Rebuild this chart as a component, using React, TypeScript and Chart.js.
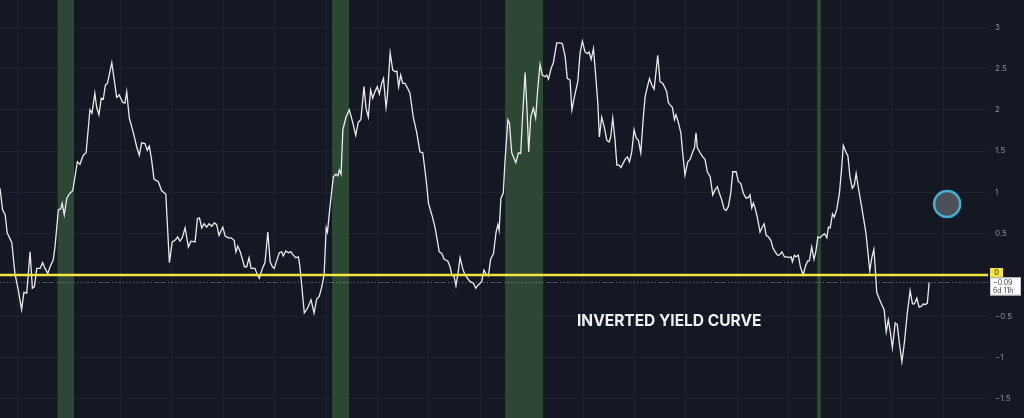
import React, { useEffect, useRef } from "react";
import { Chart, registerables } from "chart.js";

Chart.register(...registerables);

// 10Y-2Y spread (decimal year, percent)
const spreadDates = [
  1988.41, 1988.51, 1988.61, 1988.69, 1988.87, 1988.99, 1989.12, 1989.25, 1989.34, 1989.45,
  1989.58, 1989.67, 1989.75, 1989.84, 1989.97, 1990.07, 1990.16, 1990.27, 1990.36, 1990.48,
  1990.55, 1990.68, 1990.77, 1990.83, 1990.91, 1991.01, 1991.13, 1991.24, 1991.42, 1991.52,
  1991.65, 1991.76, 1991.91, 1991.99, 1992.10, 1992.17, 1992.26, 1992.35, 1992.43, 1992.51,
  1992.59, 1992.76, 1992.95, 1993.05, 1993.18, 1993.27, 1993.34, 1993.44, 1993.60, 1993.73,
  1993.83, 1993.92, 1994.05, 1994.14, 1994.22, 1994.31, 1994.40, 1994.57, 1994.70, 1994.86,
  1995.00, 1995.11, 1995.22, 1995.32, 1995.41, 1995.50, 1995.61, 1995.74, 1995.84, 1996.00,
  1996.09, 1996.17, 1996.26, 1996.35, 1996.45, 1996.54, 1996.65, 1996.75, 1996.84, 1996.93,
  1997.08, 1997.17, 1997.29, 1997.40, 1997.52, 1997.59, 1997.66, 1997.76, 1997.92, 1998.01,
  1998.10, 1998.18, 1998.33, 1998.40, 1998.50, 1998.62, 1998.72, 1998.83, 1998.92, 1999.01,
  1999.08, 1999.18, 1999.28, 1999.37, 1999.43, 1999.53, 1999.63, 1999.73, 1999.82, 1999.92,
  2000.02, 2000.08, 2000.25, 2000.38, 2000.51, 2000.63, 2000.73, 2000.83, 2000.93, 2001.02,
  2001.10, 2001.15, 2001.25, 2001.38, 2001.48, 2001.56, 2001.61, 2001.68, 2001.75, 2001.87,
  2002.00, 2002.13, 2002.25, 2002.35, 2002.45, 2002.57, 2002.65, 2002.74, 2002.83, 2002.91,
  2003.00, 2003.09, 2003.17, 2003.26, 2003.33, 2003.43, 2003.48, 2003.59, 2003.69, 2003.78,
  2003.85, 2003.92, 2004.00, 2004.08, 2004.17, 2004.27, 2004.36, 2004.49, 2004.62, 2004.75,
  2004.86, 2004.99, 2005.08, 2005.21, 2005.34, 2005.50, 2005.60, 2005.69, 2005.83, 2005.92,
  2005.99, 2006.08, 2006.15, 2006.24, 2006.31, 2006.41, 2006.50, 2006.70, 2006.83, 2006.92,
  2007.02, 2007.15, 2007.24, 2007.31, 2007.41, 2007.50, 2007.61, 2007.71, 2007.78, 2007.83,
  2007.90, 2007.99, 2008.06, 2008.17, 2008.23, 2008.32, 2008.48, 2008.58, 2008.67, 2008.73,
  2008.84, 2008.92, 2008.98, 2009.06, 2009.16, 2009.25, 2009.33, 2009.42, 2009.51, 2009.62,
  2009.68, 2009.75, 2009.85, 2009.94, 2010.07, 2010.20, 2010.29, 2010.40, 2010.48, 2010.59,
  2010.66, 2010.76, 2010.89, 2010.98, 2011.07, 2011.17, 2011.26, 2011.33, 2011.41, 2011.50,
  2011.59, 2011.67, 2011.73, 2011.82, 2011.92, 2012.02, 2012.11, 2012.17, 2012.25, 2012.34,
  2012.41, 2012.50, 2012.57, 2012.73, 2012.82, 2012.90, 2012.99, 2013.08, 2013.16, 2013.25,
  2013.34, 2013.44, 2013.51, 2013.60, 2013.68, 2013.77, 2013.86, 2013.94, 2014.00, 2014.09,
  2014.20, 2014.29, 2014.35, 2014.41, 2014.48, 2014.57, 2014.65, 2014.71, 2014.80, 2014.90,
  2014.97, 2015.06, 2015.17, 2015.26, 2015.36, 2015.43, 2015.49, 2015.54, 2015.65, 2015.75,
  2015.84, 2015.93, 2016.04, 2016.14, 2016.23, 2016.32, 2016.40, 2016.49, 2016.58, 2016.66,
  2016.75, 2016.84, 2016.92, 2017.05, 2017.14, 2017.23, 2017.33, 2017.44, 2017.53, 2017.59,
  2017.66, 2017.72, 2017.79, 2017.88, 2017.98, 2018.05, 2018.14, 2018.22, 2018.31, 2018.40,
  2018.48, 2018.57, 2018.66, 2018.73, 2018.83, 2018.93, 2019.02, 2019.11, 2019.19, 2019.24,
  2019.32, 2019.38, 2019.47, 2019.55, 2019.66, 2019.76, 2019.84, 2019.90, 2019.99, 2020.08,
  2020.15, 2020.23, 2020.32, 2020.41, 2020.49, 2020.58, 2020.64, 2020.71, 2020.80, 2020.87,
  2020.97, 2021.07, 2021.16, 2021.22, 2021.32, 2021.40, 2021.48, 2021.57, 2021.65, 2021.72,
  2021.81, 2021.91, 2022.00, 2022.10, 2022.17, 2022.25, 2022.33, 2022.41, 2022.46, 2022.52,
  2022.61, 2022.72, 2022.81, 2022.89, 2022.97, 2023.05, 2023.13, 2023.24, 2023.32, 2023.40,
  2023.50, 2023.60, 2023.71, 2023.82, 2023.91, 2023.99, 2024.08, 2024.17, 2024.25, 2024.34,
  2024.40, 2024.49, 2024.56,
];

const spreadValues = [
  1.05, 0.79, 0.73, 0.51, 0.39, 0.02, -0.18, -0.42, -0.21, -0.22,
  0.28, -0.16, -0.14, 0.08, 0.08, 0.15, 0.08, 0.02, 0.10, 0.18,
  0.34, 0.79, 0.80, 0.87, 0.73, 0.93, 0.99, 1.02, 1.37, 1.34,
  1.45, 1.48, 2.00, 1.96, 2.20, 2.03, 1.94, 2.14, 2.13, 2.30,
  2.32, 2.57, 2.15, 2.18, 2.09, 2.08, 2.22, 1.90, 1.72, 1.55,
  1.45, 1.60, 1.59, 1.51, 1.56, 1.39, 1.16, 1.13, 1.02, 0.98,
  0.15, 0.40, 0.42, 0.46, 0.41, 0.45, 0.57, 0.34, 0.41, 0.40,
  0.68, 0.69, 0.57, 0.62, 0.58, 0.62, 0.59, 0.63, 0.61, 0.48,
  0.58, 0.47, 0.45, 0.45, 0.42, 0.28, 0.35, 0.28, 0.10, 0.10,
  0.21, 0.08, 0.08, 0.02, -0.04, 0.08, 0.15, 0.52, 0.16, 0.10,
  0.08, 0.18, 0.27, 0.28, 0.23, 0.29, 0.27, 0.28, 0.24, 0.21,
  0.22, 0.10, -0.46, -0.40, -0.30, -0.46, -0.29, -0.26, -0.14, 0.00,
  0.57, 0.52, 0.83, 1.19, 1.22, 1.20, 1.27, 1.22, 1.76, 1.91,
  2.00, 1.85, 1.69, 1.85, 1.88, 2.28, 2.02, 1.91, 2.24, 2.14,
  2.22, 2.28, 2.19, 2.32, 2.38, 2.03, 2.16, 2.69, 2.48, 2.46,
  2.47, 2.28, 2.42, 2.32, 2.32, 2.26, 2.20, 1.91, 1.73, 1.49,
  1.48, 1.15, 0.87, 0.73, 0.57, 0.28, 0.26, 0.19, 0.17, 0.10,
  0.00, -0.02, -0.13, 0.04, 0.21, 0.08, 0.00, -0.08, -0.10, -0.16,
  -0.12, -0.08, 0.06, 0.02, -0.01, 0.19, 0.26, 0.52, 0.61, 0.54,
  0.93, 0.99, 1.39, 1.88, 1.84, 1.48, 1.36, 1.48, 1.47, 1.85,
  2.45, 1.96, 1.49, 1.91, 2.02, 1.90, 2.24, 2.55, 2.42, 2.40,
  2.42, 2.37, 2.50, 2.57, 2.81, 2.81, 2.80, 2.64, 2.38, 2.36,
  2.00, 2.16, 2.34, 2.69, 2.83, 2.70, 2.68, 2.70, 2.61, 2.74,
  2.40, 2.08, 1.67, 1.91, 1.79, 1.63, 1.61, 1.67, 1.90, 1.63,
  1.33, 1.33, 1.30, 1.40, 1.43, 1.37, 1.49, 1.76, 1.66, 1.63,
  1.48, 1.91, 2.16, 2.28, 2.38, 2.30, 2.25, 2.48, 2.66, 2.34,
  2.32, 2.26, 2.22, 2.09, 2.06, 2.03, 1.88, 1.94, 1.85, 1.72,
  1.48, 1.21, 1.37, 1.40, 1.49, 1.54, 1.72, 1.54, 1.48, 1.43,
  1.40, 1.25, 1.19, 0.97, 1.03, 1.07, 0.99, 0.91, 0.80, 0.78,
  0.83, 0.99, 1.25, 1.25, 1.13, 1.11, 0.99, 0.93, 0.94, 0.97,
  0.81, 0.87, 0.81, 0.69, 0.52, 0.57, 0.62, 0.48, 0.46, 0.42,
  0.33, 0.28, 0.24, 0.24, 0.28, 0.22, 0.22, 0.21, 0.22, 0.16,
  0.24, 0.22, 0.24, 0.10, 0.00, 0.12, 0.17, 0.17, 0.34, 0.19,
  0.28, 0.46, 0.45, 0.48, 0.50, 0.45, 0.58, 0.57, 0.74, 0.70,
  0.80, 0.99, 1.31, 1.57, 1.49, 1.44, 1.19, 1.05, 1.09, 1.23,
  1.05, 0.87, 0.70, 0.51, 0.30, 0.05, 0.21, 0.31, 0.10, -0.21,
  -0.28, -0.36, -0.42, -0.69, -0.54, -0.69, -0.88, -0.58, -0.60, -0.82,
  -1.05, -0.81, -0.46, -0.19, -0.35, -0.35, -0.28, -0.39, -0.38, -0.35,
  -0.36, -0.34, -0.09,
];

// Recession periods (shaded)
const recessionStarts = [1990.65, 2001.33, 2008.06, 2020.2];
const recessionEnds = [1991.29, 2001.99, 2009.54, 2020.35];

// Axis ticks
const yTickValues = [-1.5, -1, -0.5, 0, 0.5, 1, 1.5, 2, 2.5, 3];
const xGridYears = [
  1989.1, 1991.1, 1993.1, 1995.1, 1997.1, 1999.1, 2001.1, 2003.1, 2005.1, 2007.1,
  2009.1, 2011.1, 2013.1, 2015.1, 2017.1, 2019.1, 2021.1, 2023.1, 2025.1,
];

const zeroLevel = 0;
const lastValue = -0.09;
const lastValueCountdown = "6d 11h";
const annotationText = "INVERTED YIELD CURVE";
const annotationX = 2010.86;
const annotationY = -0.557;
const markerX = 2025.26;
const markerY = 0.86;

const X_MIN = 1988.41;
const X_MAX = 2026.85;
const Y_MIN = -1.731;
const Y_MAX = 3.329;

const BG = "#141823";
const GRID = "#1d212c";

const fmt = (v: number) => {
  const s = String(v);
  return v < 0 ? "\u2212" + s.slice(1) : s;
};

export default function App() {
  const ref = useRef<HTMLCanvasElement | null>(null);

  useEffect(() => {
    document.body.style.margin = "0";
    document.body.style.background = BG;
    const canvas = ref.current;
    if (!canvas) return;

    const bgPlugin = {
      id: "bgBands",
      beforeDraw(chart: any) {
        const { ctx } = chart;
        ctx.save();
        ctx.fillStyle = BG;
        ctx.fillRect(0, 0, chart.width, chart.height);
        ctx.restore();
      },
      beforeDatasetsDraw(chart: any) {
        const { ctx, chartArea, scales } = chart;
        ctx.save();
        ctx.fillStyle = "#2c4733";
        const x = scales.x;
        for (let i = 0; i < recessionStarts.length; i++) {
          const a = x.getPixelForValue(recessionStarts[i]);
          const b = x.getPixelForValue(recessionEnds[i]);
          ctx.fillRect(a, chartArea.top, b - a, chartArea.bottom - chartArea.top);
        }
        ctx.restore();
      },
    };

    const labelsPlugin = {
      id: "labels",
      afterDraw(chart: any) {
        const { ctx, chartArea, scales } = chart;
        const x = scales.x;
        const y = scales.y;
        ctx.save();
        ctx.font = "700 15.5px Inter, 'Open Sans', sans-serif";
        ctx.fillStyle = "#f0f0f2";
        ctx.textAlign = "left";
        ctx.textBaseline = "middle";
        ctx.fillText(annotationText, x.getPixelForValue(annotationX), y.getPixelForValue(annotationY));

        const left = chartArea.right + 2;
        const zy = y.getPixelForValue(zeroLevel);
        ctx.fillStyle = "#f5e642";
        ctx.fillRect(left, zy - 7, 13, 9);
        ctx.fillStyle = "#131722";
        ctx.font = "7.5px Inter, sans-serif";
        ctx.textAlign = "center";
        ctx.fillText(fmt(zeroLevel), left + 6.5, zy - 2.5);

        const ly = y.getPixelForValue(lastValue);
        ctx.fillStyle = "#ffffff";
        ctx.fillRect(left, ly - 5, 31, 18);
        ctx.strokeStyle = "#c5c7ce";
        ctx.lineWidth = 1;
        ctx.strokeRect(left + 0.5, ly - 4.5, 30, 17);
        ctx.fillStyle = "#3a3e4a";
        ctx.font = "7px Inter, sans-serif";
        ctx.textAlign = "left";
        ctx.fillText(fmt(lastValue), left + 3, ly);
        ctx.fillText(lastValueCountdown, left + 3, ly + 8);
        ctx.restore();
      },
    };

    const lineData = spreadDates.map((d, i) => ({ x: d, y: spreadValues[i] }));

    const chart = new Chart(canvas, {
      type: "line",
      data: {
        datasets: [
          {
            label: "zero",
            data: [
              { x: X_MIN, y: zeroLevel },
              { x: X_MAX, y: zeroLevel },
            ],
            borderColor: "#f5e642",
            borderWidth: 2.5,
            pointRadius: 0,
            order: 0,
          },
          {
            label: "marker",
            type: "scatter",
            data: [{ x: markerX, y: markerY }],
            pointRadius: 13,
            pointBackgroundColor: "#4d5059",
            pointBorderColor: "#3eb3d6",
            pointBorderWidth: 2.5,
            order: 0,
          } as any,
          {
            label: "spread",
            data: lineData,
            borderColor: "#ebebee",
            borderWidth: 1.3,
            pointRadius: 0,
            tension: 0,
            order: 1,
          },
          {
            label: "last",
            data: [
              { x: X_MIN, y: lastValue },
              { x: X_MAX, y: lastValue },
            ],
            borderColor: "rgba(200,202,210,0.55)",
            borderWidth: 0.8,
            borderDash: [1.5, 2],
            pointRadius: 0,
            order: 2,
          },
        ],
      },
      options: {
        animation: false,
        responsive: true,
        maintainAspectRatio: false,
        layout: { padding: 0, autoPadding: false },
        plugins: {
          legend: { display: false },
          tooltip: { enabled: false },
        },
        scales: {
          x: {
            type: "linear",
            min: X_MIN,
            max: X_MAX,
            afterBuildTicks: (s: any) => {
              s.ticks = xGridYears.map((v) => ({ value: v }));
            },
            afterFit: (s: any) => {
              s.height = 0;
              s.paddingLeft = 0;
              s.paddingRight = 0;
            },
            ticks: { display: false },
            grid: { color: GRID, drawTicks: false, lineWidth: 1 },
            border: { display: false },
          },
          y: {
            position: "right",
            min: Y_MIN,
            max: Y_MAX,
            afterBuildTicks: (s: any) => {
              s.ticks = yTickValues.map((v) => ({ value: v }));
            },
            afterFit: (s: any) => {
              s.width = 36;
              s.paddingTop = 0;
              s.paddingBottom = 0;
            },
            ticks: {
              color: "#8c8f98",
              padding: 7,
              font: { size: 8, family: "Inter, sans-serif" },
              callback: (v: any) => (Number(v) === 0 ? "" : fmt(Number(v))),
            },
            grid: { color: GRID, drawTicks: false, lineWidth: 1 },
            border: { display: false },
          },
        },
      },
      plugins: [bgPlugin, labelsPlugin],
    } as any);

    return () => chart.destroy();
  }, []);

  return (
    <div style={{ width: 1024, height: 418, position: "relative", background: BG }}>
      <canvas ref={ref} />
    </div>
  );
}
